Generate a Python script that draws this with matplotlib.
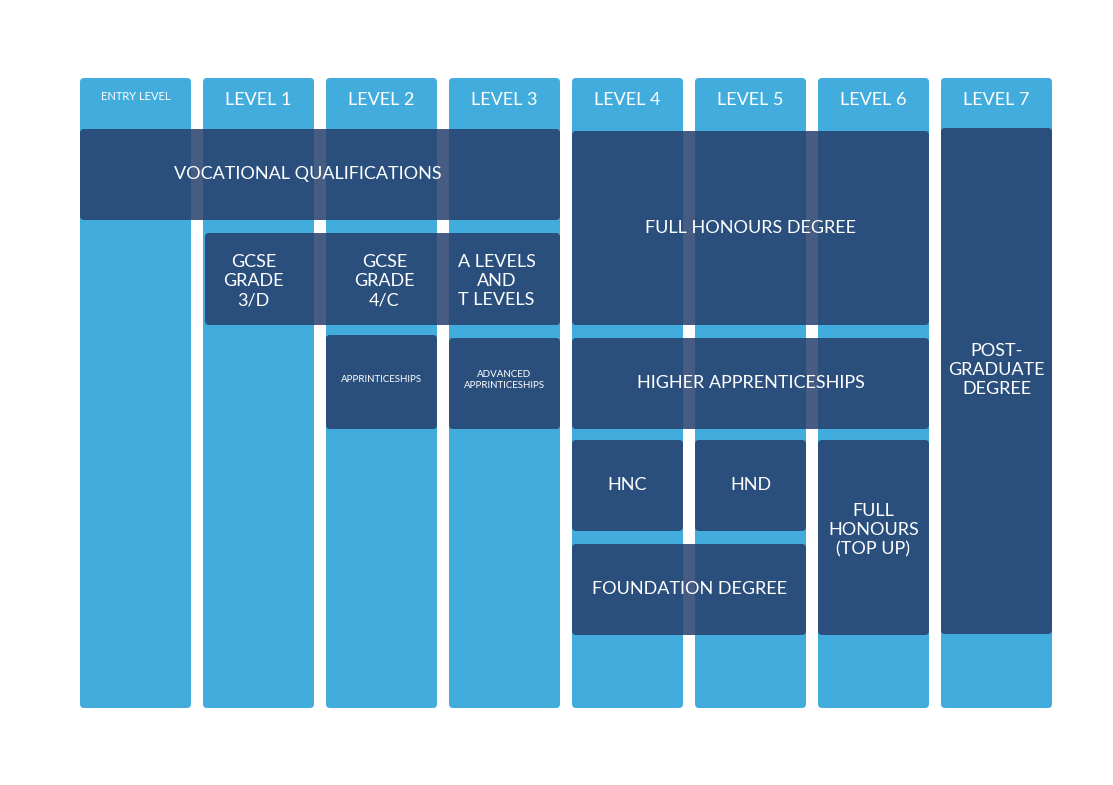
import matplotlib
matplotlib.use("Agg")
import matplotlib.pyplot as plt
from matplotlib.patches import FancyBboxPatch

levels = ["ENTRY LEVEL", "LEVEL 1", "LEVEL 2", "LEVEL 3", "LEVEL 4", "LEVEL 5", "LEVEL 6", "LEVEL 7"]

# qualification boxes: label(s), first column, last column, top row, bottom row (rows in px-like units)
box_labels = ["VOCATIONAL QUALIFICATIONS", "", "APPRINTICESHIPS", "ADVANCED\nAPPRINTICESHIPS",
              "FULL HONOURS DEGREE", "HIGHER APPRENTICESHIPS", "HNC", "HND",
              "FULL\nHONOURS\n(TOP UP)", "FOUNDATION DEGREE", "POST-\nGRADUATE\nDEGREE"]
box_col_start = [0, 1, 2, 3, 4, 4, 4, 5, 6, 4, 7]
box_col_end   = [3, 3, 2, 3, 6, 6, 4, 5, 6, 5, 7]
box_top       = [129, 233, 335, 338, 131, 338, 440, 440, 440, 544, 128]
box_bottom    = [220, 325, 429, 429, 325, 429, 531, 531, 635, 635, 634]

gcse_labels = ["GCSE\nGRADE\n3/D", "GCSE\nGRADE\n4/C", "A LEVELS\nAND\nT LEVELS"]
gcse_cols = [1, 2, 3]

X0, STEP, W = 80, 123, 111
COL_TOP, COL_BOT = 78, 708
BLUE = "#42ADDD"
NAVY = "#263F6C"

fig = plt.figure(figsize=(11.13, 7.85), dpi=100)
ax = fig.add_axes([0, 0, 1, 1])
ax.set_xlim(0, 1113)
ax.set_ylim(785, 0)
ax.axis("off")
plt.rcParams["font.family"] = "Lato"

for i, lab in enumerate(levels):
    x = X0 + i * STEP
    ax.add_patch(FancyBboxPatch((x + 4, COL_TOP + 4), W - 8, COL_BOT - COL_TOP - 8,
                                boxstyle="round,pad=4", fc=BLUE, ec="none", zorder=1))
    if i == 0:
        ax.text(x + W / 2, 97, lab, color="white", fontsize=8, ha="center", va="center", zorder=5)
    else:
        ax.text(x + W / 2, 100, lab, color="white", fontsize=13, ha="center", va="center", zorder=5)

for lab, c0, c1, t, b in zip(box_labels, box_col_start, box_col_end, box_top, box_bottom):
    x0 = X0 + c0 * STEP + (2 if c0 == 1 else 0)
    x1 = X0 + c1 * STEP + W
    ax.add_patch(FancyBboxPatch((x0 + 4, t + 4), x1 - x0 - 8, b - t - 8,
                                boxstyle="round,pad=4", fc=NAVY, ec="none", alpha=0.85, zorder=2))
    if lab:
        small = "APPRINTICESHIPS" in lab
        yc = (t + b) / 2
        if lab.startswith("FULL\n"):
            yc = 530
        if lab.startswith("POST"):
            yc = 370
        if lab == "VOCATIONAL QUALIFICATIONS":
            xc = 308
        elif lab == "ADVANCED\nAPPRINTICESHIPS":
            xc = (x0 + x1) / 2
            yc = 380
        else:
            xc = (x0 + x1) / 2
        if lab == "APPRINTICESHIPS":
            yc = 380
        ax.text(xc, yc, lab, color="white", fontsize=7 if small else 13, ha="center", va="center",
                linespacing=1.25, zorder=5)

for lab, c in zip(gcse_labels, gcse_cols):
    xc = X0 + c * STEP + W / 2 + (-5 if c == 1 else (3 if c == 2 else -8))
    ax.text(xc, 281, lab, color="white", fontsize=13, ha="center", va="center",
            linespacing=1.25, zorder=5)

fig.savefig("out.png", dpi=100, facecolor="white")
